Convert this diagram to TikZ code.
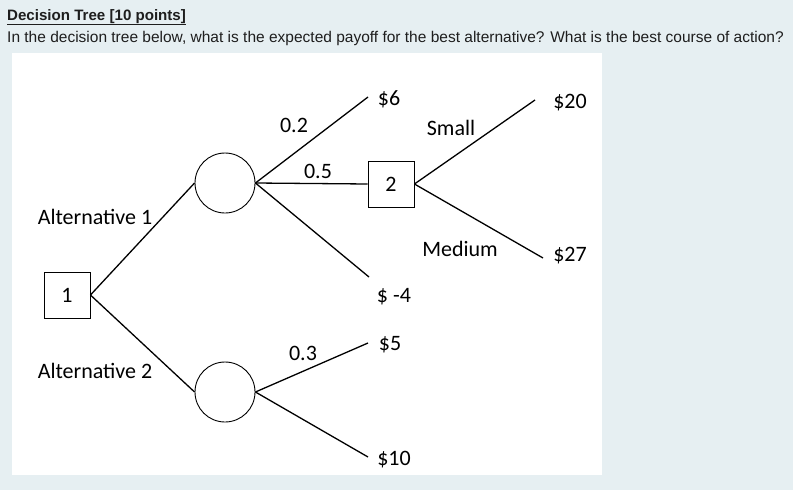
\documentclass[tikz,border=0pt]{standalone}
\usepackage{fontspec}
\setmainfont{Carlito}
\newfontfamily\uifont{Liberation Sans}
\definecolor{pagebg}{HTML}{E6EFF2}
\definecolor{txt}{HTML}{1E1E1E}
\begin{document}
\begin{tikzpicture}[x=1pt,y=-1pt,
  lbl/.style={font=\fontsize{22}{24}\selectfont, inner sep=0pt, yshift=-2pt},
  sqnode/.style={draw, line width=0.9pt, minimum size=46pt, inner sep=0pt, font=\fontsize{22}{24}\selectfont},
  chance/.style={draw, circle, line width=0.9pt, minimum size=60pt, inner sep=0pt},
  edge/.style={line width=1.3pt}]
\fill[pagebg] (0,0) rectangle (793,490);
\useasboundingbox (0,0) rectangle (793,490);
\fill[white] (12,53) rectangle (602,475);
\node[anchor=base west, inner sep=0pt, text=txt, font=\uifont\fontsize{15.1}{17}\selectfont\bfseries] (title) at (7,20) {\underline{Decision Tree [10 points]}};
\node[anchor=base west, inner sep=0pt, text=txt, font=\uifont\fontsize{15.5}{17}\selectfont] (q) at (7,42) {In the decision tree below, what is the expected payoff for the best alternative? What is the best course of action?};
% nodes
\node[sqnode] (d1) at (67,295) {1};
\node[chance] (c1) at (225,183) {};
\node[chance] (c2) at (225,392) {};
\node[sqnode] (d2) at (391,184) {2};
\coordinate (e6) at (368,97);
\coordinate (em4) at (369,277);
\coordinate (e20) at (535,100);
\coordinate (e27) at (543,258);
\coordinate (e5) at (368,343);
\coordinate (e10) at (368,457);
% edges
\draw[edge] (d1.east) -- (c1.west);
\draw[edge] (d1.east) -- (c2.west);
\draw[edge] (c1.east) -- (e6);
\draw[edge] (c1.east) -- (d2.west);
\draw[edge] (c1.east) -- (em4);
\draw[edge] (d2.east) -- (e20);
\draw[edge] (d2.east) -- (e27);
\draw[edge] (c2.east) -- (e5);
\draw[edge] (c2.east) -- (e10);
% labels
\node[lbl] (alt1) at (95,215) {Alternative 1};
\node[lbl] (alt2) at (95,369) {Alternative 2};
\node[lbl] (p02) at (294,123) {0.2};
\node[lbl] (p05) at (318,169.5) {0.5};
\node[lbl] (p03) at (303,351) {0.3};
\node[lbl] (v6) at (389,97) {\$6};
\node[lbl] (vm4) at (394,295) {\$ -4};
\node[lbl] (v5) at (390,343) {\$5};
\node[lbl] (v10) at (394,458) {\$10};
\node[lbl] (small) at (451,126) {Small};
\node[lbl] (medium) at (460,247) {Medium};
\node[lbl] (v20) at (570,101) {\$20};
\node[lbl] (v27) at (570,254) {\$27};
\end{tikzpicture}
\end{document}
